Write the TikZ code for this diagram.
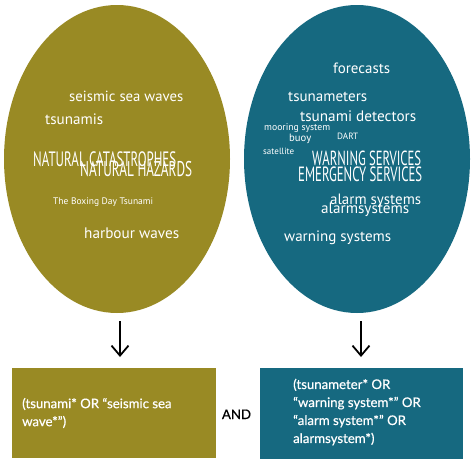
\documentclass[tikz,border=0pt]{standalone}
\usepackage{fontspec}
\setmainfont{PT Sans}
\newfontfamily\condfont[FakeStretch=0.62]{PT Sans}
\newfontfamily\boxfont[FakeBold=0.6]{Lato}
\usetikzlibrary{shapes.geometric,arrows.meta}
\definecolor{olivec}{RGB}{153,138,36}
\definecolor{tealc}{RGB}{22,105,128}
\newcommand\cloudw[2]{\resizebox{#1pt}{!}{#2}}
\tikzset{
  oval/.style={ellipse,inner sep=0pt,minimum width=226pt,minimum height=308pt},
  qbox/.style={rectangle,inner sep=0pt},
  cloud/.style={anchor=base west,inner sep=0pt,text=white,font=\fontsize{14}{16}\selectfont},
  qtext/.style={anchor=west,align=left,inner sep=0pt,text=white,font=\boxfont\fontsize{13.2}{18}\selectfont},
  downarr/.style={line width=1.8pt,-{Straight Barb[length=10pt,width=17pt]}}
}
\begin{document}
\begin{tikzpicture}[x=1pt,y=-1pt]
\useasboundingbox[fill=white] (0,0) rectangle (474,474);
% ellipses
\node[oval,fill=olivec] (L) at (117,159) {};
\node[oval,fill=tealc] (R) at (357,159) {};
% left word cloud
\node[cloud] (l1) at (69,101) {\cloudw{114}{seismic sea waves}};
\node[cloud] (l2) at (45,124.7) {\cloudw{58}{tsunamis}};
\node[cloud] (l3) at (33,166.7) {\cloudw{143}{\condfont NATURAL CATASTROPHES}};
\node[cloud] (l4) at (80,176) {\cloudw{112}{\condfont NATURAL HAZARDS}};
\node[cloud] (l5) at (53,204.3) {\cloudw{100}{The Boxing Day Tsunami}};
\node[cloud] (l6) at (84,238) {\cloudw{95}{harbour waves}};
% right word cloud
\node[cloud] (r1) at (333,73.5) {\cloudw{57}{forecasts}};
\node[cloud] (r2) at (288,101) {\cloudw{79}{tsunameters}};
\node[cloud] (r3) at (300,121.7) {\cloudw{116}{tsunami detectors}};
\node[cloud] (r4) at (264,130) {\cloudw{66}{mooring system}};
\node[cloud] (r5) at (289,141.5) {\cloudw{22}{buoy}};
\node[cloud] (r6) at (337,139.7) {\cloudw{21}{DART}};
\node[cloud] (r7) at (263,154) {\cloudw{31}{satellite}};
\node[cloud] (r8) at (312,165.7) {\cloudw{109}{\condfont WARNING SERVICES}};
\node[cloud] (r9) at (298,181) {\cloudw{124}{\condfont EMERGENCY SERVICES}};
\node[cloud] (r10) at (330,204) {\cloudw{91}{alarm systems}};
\node[cloud] (r11) at (321,213) {\cloudw{88}{alarmsystems}};
\node[cloud] (r12) at (284,241) {\cloudw{107}{warning systems}};
% query boxes
\node[qbox,fill=olivec,minimum width=204pt,minimum height=90pt] (Lb) at (114,413) {};
\node[qbox,fill=tealc,minimum width=203pt,minimum height=91pt] (Rb) at (361.5,413.5) {};
\node[qtext] (Lt) at (22,413) {(tsunami* OR “seismic sea\\wave*”)};
\node[qtext] (Rt) at (293,412) {(tsunameter* OR\\“warning system*” OR\\“alarm system*” OR\\alarmsystem*)};
\node[anchor=base,inner sep=0pt,font=\boxfont\fontsize{13.2}{15}\selectfont] (and) at (236.5,419) {AND};
% arrows
\coordinate (a1s) at (120,321);
\coordinate (a1e) at (120,357);
\coordinate (a2s) at (361,321);
\coordinate (a2e) at (361,357);
\draw[downarr] (a1s) -- (a1e);
\draw[downarr] (a2s) -- (a2e);
\end{tikzpicture}
\end{document}
